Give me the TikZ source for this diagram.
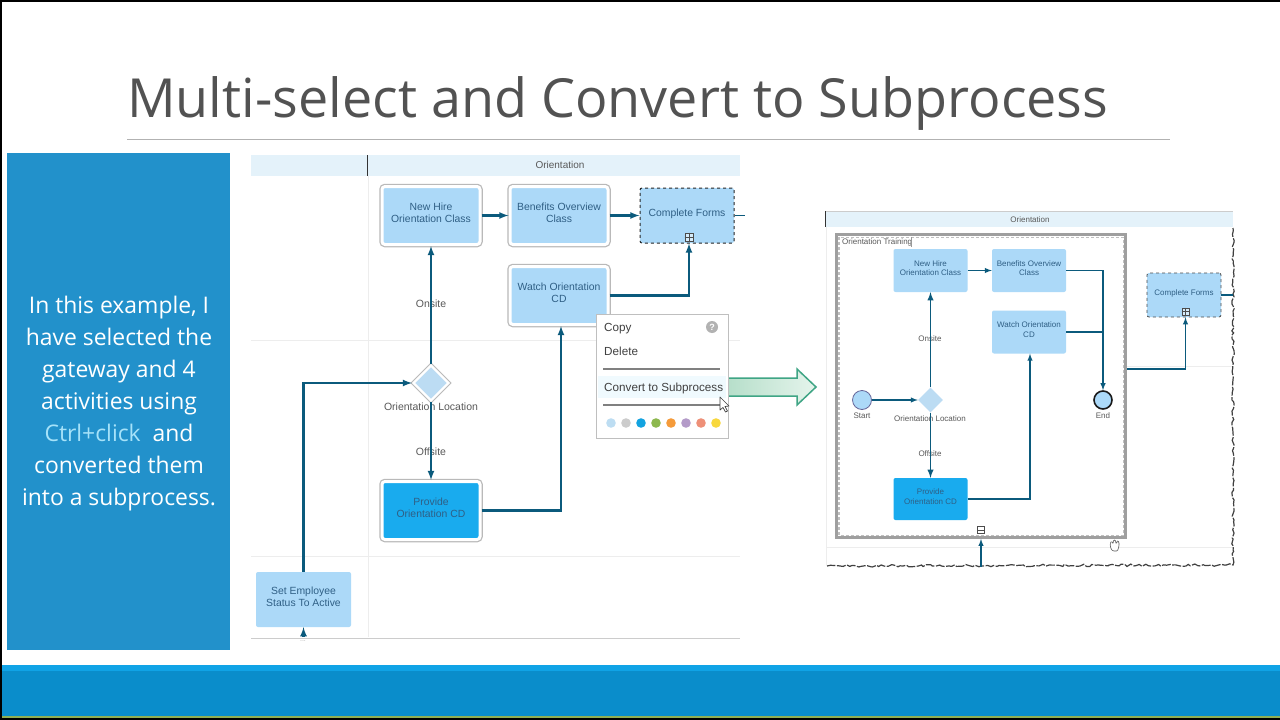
\documentclass[tikz,border=0pt]{standalone}
\usepackage{fontspec}
\usepackage{xcolor}
\setmainfont{Open Sans}
\newfontfamily\flowfont{Liberation Sans}
\usetikzlibrary{shapes.geometric,decorations.pathmorphing}
\definecolor{panelblue}{HTML}{2291CB}
\definecolor{barblue}{HTML}{0A8DCB}
\definecolor{barlight}{HTML}{10A3E6}
\definecolor{barline}{HTML}{8FAF55}
\definecolor{taskblue}{HTML}{ACD9F8}
\definecolor{taskdeep}{HTML}{19ABEE}
\definecolor{gatesoft}{HTML}{BCDCF3}
\definecolor{taskink}{HTML}{2F5F85}
\definecolor{flowink}{HTML}{0B5A7C}
\definecolor{bandblue}{HTML}{E4F2FA}
\definecolor{laneline}{HTML}{EDEDED}
\definecolor{arrowedge}{HTML}{3FA585}
\definecolor{arrowdark}{HTML}{B5DEC9}
\definecolor{arrowpale}{HTML}{E5F4EC}
\tikzset{
  task/.style={fill=taskblue, rounded corners=2pt, inner sep=0pt, text=taskink, align=center},
  bigtask/.style={task, text depth=5.5pt, font=\flowfont\fontsize{10.4}{12.5}\selectfont},
  smalltask/.style={task, text depth=5pt, font=\flowfont\fontsize{8}{9.7}\selectfont},
  picked/.style={preaction={draw=gray!55, line width=5.5pt}, draw=white, line width=3pt, rounded corners=3pt},
  note/.style={text=black!65, inner sep=0pt, font=\flowfont\fontsize{10.5}{13}\selectfont},
  smallnote/.style={text=black!65, inner sep=0pt, font=\flowfont\fontsize{8}{10}\selectfont},
  flow/.style={draw=flowink, line width=2.1pt, >=latex},
  thinflow/.style={draw=flowink, line width=1.4pt, >=latex},
  menuitem/.style={anchor=base west, text=black!75, inner sep=0pt, font=\flowfont\fontsize{11.7}{14}\selectfont},
  marker/.style={draw=black!70, fill=white, fill opacity=0.5, text opacity=1, minimum size=8pt, inner sep=0pt, line width=0.7pt}
}
\begin{document}
\begin{tikzpicture}[x=1pt,y=-1pt]
\useasboundingbox (0,0) rectangle (1280,720);
\fill[white] (0,0) rectangle (1280,720);
\fill[black] (0,0) rectangle (1280,1.5);
\fill[black] (0,0) rectangle (2,720);
\fill[black] (0,718) rectangle (1280,720);
\fill[barblue] (2,665) rectangle (1280,716);
\fill[barlight] (2,665) rectangle (1280,671);
\fill[barline] (2,716) rectangle (1280,718);
% title
\node[anchor=base west, inner sep=0pt, text=black!68, font=\fontsize{53.9}{60}\selectfont] (title) at (127,117) {Multi-select and Convert to Subprocess};
\draw[gray!60] (127,139) -- (1170,139);
% left panel
\fill[panelblue] (7,153) rectangle (230,650);
\node[align=center, text=white, inner sep=0pt, font=\fontsize{22.9}{32}\selectfont] (panel) at (119,404) {In this example, I\\have selected the\\gateway and 4\\activities using\\{\color{cyan!35!white}Ctrl+click}\ \ and\\converted them\\into a subprocess.};
% left diagram lanes
\fill[bandblue] (251,155) rectangle (740,176);
\draw[black!80, line width=1pt] (367,155) -- (367,176);
\draw[laneline] (368,176) -- (368,637);
\draw[laneline] (251,340) -- (740,340);
\draw[laneline] (251,556) -- (740,556);
\draw[gray!40] (251,638) -- (740,638);
\node[note, font=\flowfont\fontsize{10}{12}\selectfont] (bandtitle) at (560,165) {Orientation};
% left diagram tasks
\node[bigtask, picked, minimum width=98pt, minimum height=58pt] (newhire) at (431,215.5) {New Hire\\Orientation Class};
\node[bigtask, picked, minimum width=98pt, minimum height=58pt] (benefits) at (559,215.5) {Benefits Overview\\Class};
\node[bigtask, draw=black!85, dashed, line width=1pt, minimum width=94pt, minimum height=55pt] (forms) at (687,215.5) {Complete Forms};
\node[bigtask, picked, minimum width=98pt, minimum height=58pt] (watch) at (559,295.5) {Watch Orientation\\CD};
\node[bigtask, picked, fill=taskdeep, minimum width=98pt, minimum height=58pt] (provide) at (431,510.5) {Provide\\Orientation CD};
\node[bigtask, minimum width=95pt, minimum height=55pt] (setstatus) at (303.5,599.5) {Set Employee\\Status To Active};
\node[diamond, fill=gatesoft, preaction={draw=gray!55, line width=4.5pt}, draw=white, line width=2.2pt, minimum size=36pt, inner sep=0pt] (gate) at (431,383) {};
\node[note] (onsite) at (431,304) {Onsite};
\node[note] (gatelabel) at (431,407) {Orientation Location};
\node[note] (offsite) at (431,452) {Offsite};
\node[text=gray!60, inner sep=0pt, font=\flowfont\fontsize{7}{8}\selectfont] (moredots) at (303,641) {...};
\node[marker] (formsplus) at (689,237) {};
\draw[black!70, line width=0.7pt] (formsplus.west) -- (formsplus.east) (formsplus.north) -- (formsplus.south);
\coordinate (setin) at (303.5,637);
\coordinate (formsout) at (745,215.5);
% left diagram flows
\draw[flow, ->] (newhire.east) -- (benefits.west);
\draw[flow, ->] (benefits.east) -- (forms.west);
\draw[flow, line width=0.8pt] (forms.east) -- (formsout);
\draw[flow, ->] (gate.north) -- (newhire.south);
\draw[flow, ->] (gate.south) -- (provide.north);
\draw[flow, ->] (setstatus.north) |- (gate.west);
\draw[flow, ->] (setin) -- (setstatus.south);
\draw[flow, ->] (provide.east) -| ([xshift=2pt]watch.south);
\draw[flow, ->] (watch.east) -| ([xshift=2pt]forms.south);
% big green arrow
\draw[draw=arrowedge, line width=1.5pt, left color=arrowdark, right color=arrowpale]
  (725,378) -- (797,378) -- (797,369) -- (816,387) -- (797,405) -- (797,396) -- (725,396) -- cycle;
% context menu
\node[draw=gray!50, fill=white, minimum width=132pt, minimum height=124pt, inner sep=0pt] (menu) at (662,376) {};
\fill[cyan!6] (598,376) rectangle (726,398);
\node[menuitem] (copy) at (604,331) {Copy};
\node[menuitem] (delete) at (604,355) {Delete};
\node[menuitem] (convert) at (604,391) {Convert to Subprocess};
\draw[gray, line width=1.3pt] (603,369) -- (720,369);
\draw[gray, line width=1.3pt] (603,405) -- (722,405);
\node[circle, fill=gray!60, text=white, minimum size=12pt, inner sep=0pt, font=\flowfont\bfseries\fontsize{9}{10}\selectfont] (help) at (712,327) {?};
\foreach \dotx/\dotcol in {611/BDDDF2,626/CCCCCC,641/13A3E0,656/8DB84E,671/F59B3A,686/B49BC9,701/EE9078,716/F8D83E}{
  \definecolor{menudot}{HTML}{\dotcol}
  \fill[menudot] (\dotx,423) circle (4.8pt);
}
\draw[black!75, fill=white, line width=0.7pt, line join=round] (720,397) -- (720,410) -- (723,407.5) -- (725.5,412) -- (727.5,411) -- (725,406.5) -- (729,406) -- cycle;
% right diagram lanes
\fill[bandblue] (826,212) rectangle (1233,227);
\draw[gray!40] (826,211.5) -- (1233,211.5);
\draw[black!80, line width=1pt] (825,211) -- (825,227);
\draw[laneline] (826,227) -- (826,565);
\draw[laneline] (1127,366) -- (1233,366);
\draw[laneline] (826,547) -- (1233,547);
\node[smallnote] (bandtitle2) at (1030,219.5) {Orientation};
\pgfmathsetseed{7}
\draw[black!75, line width=1.2pt, dash pattern=on 9pt off 1.5pt, decorate, decoration={random steps, segment length=3pt, amplitude=1.2pt}] (1233,228) -- (1233,565) -- (827,566);
% subprocess
\node[draw=gray!75, line width=3pt, fill=white, minimum width=289pt, minimum height=302.5pt, inner sep=0pt] (training) at (981,386.2) {};
\draw[gray!50, line width=1.5pt, dash pattern=on 3pt off 2pt] (838.75,237.25) rectangle (1123.25,535.25);
\node[smallnote, anchor=west] (trainlabel) at (842,242) {Orientation Training};
\draw[gray!80, line width=0.6pt] (911,237) -- (911,247);
% right diagram tasks
\node[smalltask, minimum width=74pt, minimum height=43pt] (newhire2) at (930.5,270.5) {New Hire\\Orientation Class};
\node[smalltask, minimum width=74pt, minimum height=43pt] (benefits2) at (1029,270.5) {Benefits Overview\\Class};
\node[smalltask, minimum width=74pt, minimum height=43pt] (watch2) at (1029,332) {Watch Orientation\\CD};
\node[smalltask, draw=black!70, dashed, line width=0.8pt, minimum width=74pt, minimum height=44pt] (forms2) at (1184,295) {Complete Forms};
\node[smalltask, fill=taskdeep, minimum width=74pt, minimum height=42pt] (provide2) at (930.5,499) {Provide\\Orientation CD};
\node[circle, fill=taskblue, draw=gray!80!blue, line width=0.8pt, minimum size=19pt, inner sep=0pt] (start2) at (862,400) {};
\node[circle, fill=taskblue, draw=black!90, line width=1.6pt, minimum size=18pt, inner sep=0pt] (end2) at (1103,400) {};
\node[diamond, fill=gatesoft, minimum size=25pt, inner sep=0pt] (gate2) at (930.5,400) {};
\node[smallnote] (startlabel) at (862,415.5) {Start};
\node[smallnote] (endlabel) at (1103,415.5) {End};
\node[smallnote] (onsite2) at (930,339) {Onsite};
\node[smallnote] (gatelabel2) at (930,419) {Orientation Location};
\node[smallnote] (offsite2) at (930,453.5) {Offsite};
\node[marker, minimum size=7pt] (formsplus2) at (1185.5,311.5) {};
\draw[black!70, line width=0.6pt] (formsplus2.west) -- (formsplus2.east) (formsplus2.north) -- (formsplus2.south);
\node[marker, minimum size=7pt] (trainminus) at (981,530) {};
\draw[black!70, line width=0.6pt] (trainminus.west) -- (trainminus.east);
\coordinate (trainin) at (981,567);
\coordinate (trainout) at (1127,369);
\coordinate (formsout2) at (1233,295);
% right diagram flows
\draw[thinflow, ->] (newhire2.east) -- (benefits2.west);
\draw[thinflow, ->] (benefits2.east) -| (end2.north);
\draw[thinflow] (watch2.east) -- (watch2.east -| end2.north);
\draw[thinflow, ->] (start2.east) -- (gate2.west);
\draw[flow, line width=1.8pt, ->] (gate2.north) -- (newhire2.south);
\draw[flow, line width=1.8pt, ->] (gate2.south) -- (provide2.north);
\draw[thinflow, ->] (provide2.east) -| ([xshift=1pt]watch2.south);
\draw[thinflow, ->] (trainout) -| ([xshift=1.5pt]forms2.south);
\draw[thinflow] (forms2.east) -- (formsout2);
\draw[thinflow, ->] (trainin) -- (training.south);
% hand cursor
\draw[black!65, fill=white, line width=0.6pt, rounded corners=1pt] (1111,549) -- (1110,544) -- (1111.5,541) -- (1113,544) -- (1113.5,540) -- (1115.5,540) -- (1116,544) -- (1117.5,541) -- (1119,542) -- (1119,546) -- (1117.5,551) -- (1113,551) -- cycle;
\end{tikzpicture}
\end{document}
